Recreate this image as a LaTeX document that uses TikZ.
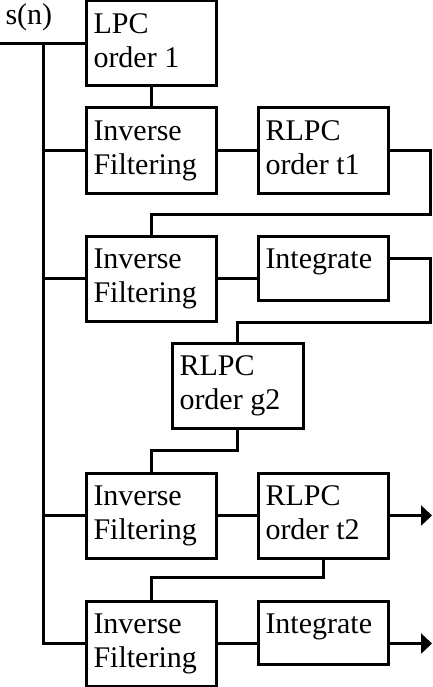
\documentclass[tikz,border=0pt]{standalone}
\usepackage{fontspec}
\setmainfont{Liberation Serif}
\usetikzlibrary{arrows.meta}
\begin{document}
\begin{tikzpicture}[x=1pt,y=-1pt,line width=3pt] % схема анализа
\tikzstyle{blk} = [draw, rectangle, anchor=north west, inner sep=0pt, outer sep=0pt, minimum width=130pt, minimum height=85pt] % обычный блок
\tikzstyle{lowblk} = [blk, minimum height=64pt] % низкий блок
\tikzstyle{txt} = [anchor=north west, inner sep=0pt, align=left, font=\fontsize{30}{34}\selectfont] % надпись в блоке
\tikzstyle{outarr} = [-{Triangle[length=11pt,width=20pt]}] % выходная стрелка

\useasboundingbox (0,0) rectangle (432,687);

% блоки
\node[blk] (lpc) at (86,1) {};
\node[blk] (if1) at (86,108) {};
\node[blk] (rt1) at (258,108) {};
\node[blk] (if2) at (86,236) {};
\node[lowblk] (int1) at (258,236) {};
\node[blk, minimum width=131pt] (rg2) at (172,343) {};
\node[blk] (if3) at (86,473) {};
\node[blk] (rt2) at (258,473) {};
\node[blk] (if4) at (86,601) {};
\node[lowblk, minimum height=63pt] (int2) at (258,601) {};

% надписи
\node[txt] (lpct) at ([shift={(6,11)}]lpc.north west) {LPC\\order 1};
\node[txt] (if1t) at ([shift={(6,11)}]if1.north west) {Inverse\\Filtering};
\node[txt] (rt1t) at ([shift={(6,11)}]rt1.north west) {RLPC\\order t1};
\node[txt] (if2t) at ([shift={(6,11)}]if2.north west) {Inverse\\Filtering};
\node[txt] (int1t) at ([shift={(6,11)}]int1.north west) {Integrate};
\node[txt] (rg2t) at ([shift={(6,11)}]rg2.north west) {RLPC\\order g2};
\node[txt] (if3t) at ([shift={(6,11)}]if3.north west) {Inverse\\Filtering};
\node[txt] (rt2t) at ([shift={(6,11)}]rt2.north west) {RLPC\\order t2};
\node[txt] (if4t) at ([shift={(6,11)}]if4.north west) {Inverse\\Filtering};
\node[txt] (int2t) at ([shift={(6,11)}]int2.north west) {Integrate};
\node[txt, anchor=base west] (sn) at (4,25) {s(n)};

% вход и шина
\coordinate (in) at (0,43.5);
\coordinate (jn) at (43,43.5);
\draw (in) -- (lpc.west);
\draw (jn) |- (if1.west);
\draw (jn) |- (if2.west);
\draw (jn) |- (if3.west);
\draw (jn) |- (if4.west);

% связи
\draw (lpc.south) -- (if1.north);
\draw (if1.east) -- (rt1.west);
\draw (rt1.east) -| ++(42.5,63.5) -| (if2.north);
\draw (if2.east) -- (if2.east -| int1.west);
\draw ([yshift=10pt]int1.east) -| ++(42.5,64) -| (rg2.north);
\draw (rg2.south) -- ++(0,22) -| (if3.north);
\draw (if3.east) -- (rt2.west);
\draw (rt2.south) -- ++(0,19) -| (if4.north);
\draw (if4.east) -- (if4.east -| int2.west);

% выходы
\coordinate (out1) at (432,515.5);
\coordinate (out2) at (432,643.5);
\draw[outarr] (rt2.east) -- (out1);
\draw[outarr] (if4.east -| int2.east) -- (out2);
\end{tikzpicture}
\end{document}
